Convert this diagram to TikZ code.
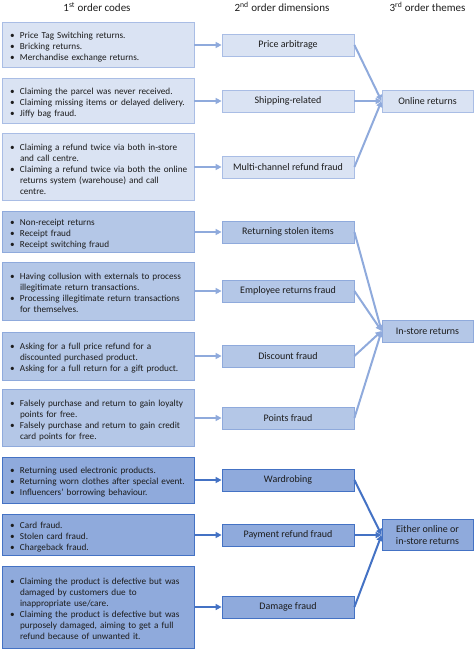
\documentclass[tikz,border=0pt]{standalone}
\usepackage{fontspec}
\setmainfont{Carlito}
\usetikzlibrary{arrows.meta}

\definecolor{fillA}{HTML}{DAE3F3}
\definecolor{lineA}{HTML}{A9BDE5}
\definecolor{fillB}{HTML}{B4C7E7}
\definecolor{lineB}{HTML}{8FAADC}
\definecolor{fillC}{HTML}{8FAADC}
\definecolor{lineC}{HTML}{4472C4}
\definecolor{ink}{HTML}{1C1C1C}

\newcommand{\bul}[1]{\par\rightskip=-8pt plus 1fil\hyphenpenalty=10000\noindent\hangindent=10pt\hangafter=1\makebox[10pt][l]{\textbullet}#1\par}

\begin{document}
\begin{tikzpicture}[x=1pt,y=-1pt]


\tikzset{head/.style={inner sep=0pt,text=ink,font=\fontsize{11}{13}\selectfont},}
\tikzset{code/.style={rectangle,draw,line width=0.8pt,minimum width=192pt,minimum height=#1,text width=176pt,inner xsep=8pt,inner ysep=0pt,align=left,text=ink,font=\fontsize{9.2}{11}\selectfont},}
\tikzset{dim/.style={rectangle,draw,line width=0.8pt,minimum width=132pt,minimum height=22pt,inner sep=0pt,text=ink,font=\fontsize{10}{12}\selectfont},}
\tikzset{theme/.style={rectangle,draw,line width=0.8pt,minimum width=91pt,minimum height=#1,inner sep=0pt,align=center,text=ink,font=\fontsize{10}{12}\selectfont},}

\tikzset{arrA/.style={-{Triangle[length=6pt,width=6pt]}, line width=2pt, lineB}}
\tikzset{arrC/.style={-{Triangle[length=6pt,width=6pt]}, line width=2pt, lineC}}

\useasboundingbox (0,0) rectangle (474,651);

	\draw
		(97,7) node[head] (h1) {1\textsuperscript{st} order codes}
		(282,7) node[head] (h2) {2\textsuperscript{nd} order dimensions}
		(427.5,7) node[head] (h3) {3\textsuperscript{rd} order themes};

	% online returns
	\draw
		(98,45) node[code=45pt,fill=fillA,draw=lineA] (c1) {\bul{Price Tag Switching returns.}\bul{Bricking returns.}\bul{Merchandise exchange returns.}}
		(98,101) node[code=45pt,fill=fillA,draw=lineA] (c2) {\bul{Claiming the parcel was never received.}\bul{Claiming missing items or delayed delivery.}\bul{Jiffy bag fraud.}}
		(98,167) node[code=67pt,fill=fillA,draw=lineA] (c3) {\bul{Claiming a refund twice via both in-store\newline and call centre.}\bul{Claiming a refund twice via both the online\newline returns system (warehouse) and call\newline centre.}}
		(288,45) node[dim,fill=fillA,draw=lineA] (d1) {Price arbitrage}
		(288,101) node[dim,fill=fillA,draw=lineA] (d2) {Shipping-related}
		(288,167) node[dim,fill=fillA,draw=lineA] (d3) {Multi-channel refund fraud}
		(427.5,101) node[theme=22pt,fill=fillA,draw=lineA] (t1) {Online returns};

	% in-store returns
	\draw
		(98,232) node[code=41pt,fill=fillB,draw=lineB] (c4) {\bul{Non-receipt returns}\bul{Receipt fraud}\bul{Receipt switching fraud}}
		(98,291) node[code=58pt,fill=fillB,draw=lineB] (c5) {\bul{Having collusion with externals to process\newline illegitimate return transactions.}\bul{Processing illegitimate return transactions\newline for themselves.}}
		(98,356) node[code=48pt,fill=fillB,draw=lineB] (c6) {\bul{Asking for a full price refund for a\newline discounted purchased product.}\bul{Asking for a full return for a gift product.}}
		(98,418) node[code=57pt,fill=fillB,draw=lineB] (c7) {\bul{Falsely purchase and return to gain loyalty\newline points for free.}\bul{Falsely purchase and return to gain credit\newline card points for free.}}
		(288,232) node[dim,fill=fillB,draw=lineB] (d4) {Returning stolen items}
		(288,291) node[dim,fill=fillB,draw=lineB] (d5) {Employee returns fraud}
		(288,356) node[dim,fill=fillB,draw=lineB] (d6) {Discount fraud}
		(288,418) node[dim,fill=fillB,draw=lineB] (d7) {Points fraud}
		(427.5,331) node[theme=22pt,fill=fillB,draw=lineB] (t2) {In-store returns};

	% either online or in-store
	\draw
		(98,480) node[code=46pt,fill=fillC,draw=lineC] (c8) {\bul{Returning used electronic products.}\bul{Returning worn clothes after special event.}\bul{Influencers' borrowing behaviour.}}
		(98,535) node[code=41pt,fill=fillC,draw=lineC] (c9) {\bul{Card fraud.}\bul{Stolen card fraud.}\bul{Chargeback fraud.}}
		(98,607) node[code=82pt,fill=fillC,draw=lineC] (c10) {\bul{Claiming the product is defective but was\newline damaged by customers due to\newline inappropriate use/care.}\bul{Claiming the product is defective but was\newline purposely damaged, aiming to get a full\newline refund because of unwanted it.}}
		(288,480) node[dim,fill=fillC,draw=lineC] (d8) {Wardrobing}
		(288,535) node[dim,fill=fillC,draw=lineC] (d9) {Payment refund fraud}
		(288,607) node[dim,fill=fillC,draw=lineC] (d10) {Damage fraud}
		(427.5,535) node[theme=31pt,fill=fillC,draw=lineC] (t3) {Either online or\\in-store returns};

	\foreach \i in {1,...,7}{\draw[arrA](c\i) -- (d\i);}
	\foreach \i in {8,9,10}{\draw[arrC](c\i) -- (d\i);}

	\foreach \i in {1,2,3}{\draw[arrA](d\i.east) -- (t1.west);}
	\foreach \i in {4,...,7}{\draw[arrA](d\i.east) -- (t2.west);}
	\foreach \i in {8,9,10}{\draw[arrC](d\i.east) -- (t3.west);}

\end{tikzpicture}
\end{document}
